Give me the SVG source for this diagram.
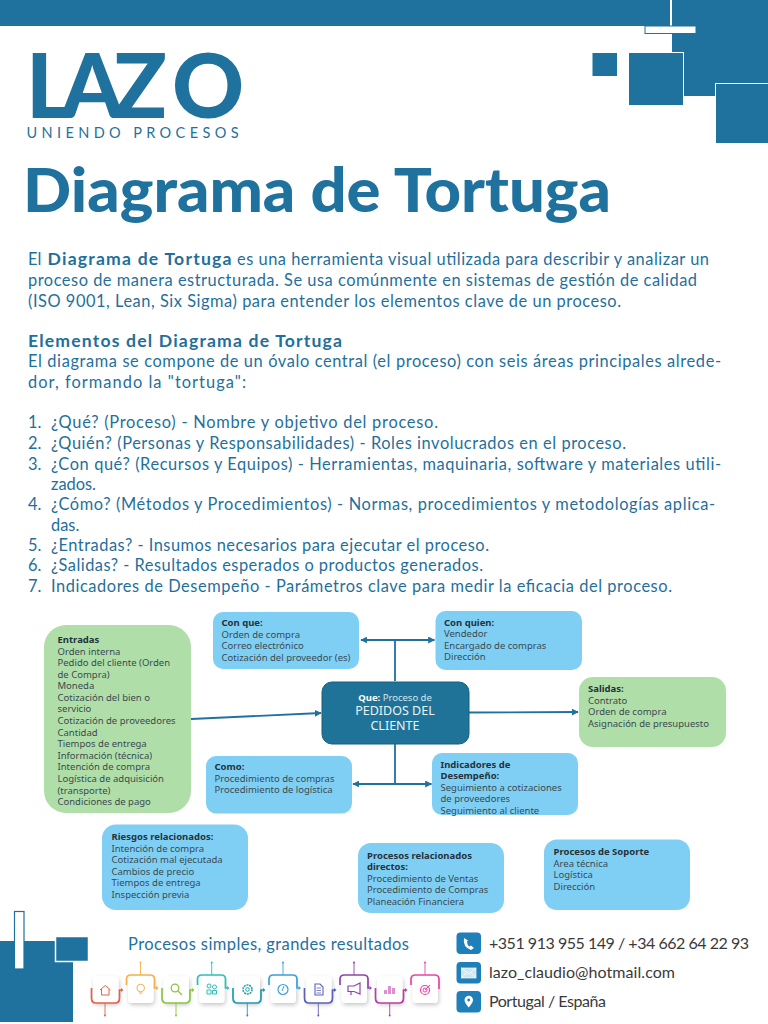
<svg xmlns="http://www.w3.org/2000/svg" width="768" height="1024" viewBox="0 0 768 1024">
<defs>
<style>
.b{fill:#1f719e}
.body{font-family:Lato,"Liberation Sans",sans-serif;font-size:16.4px;fill:#1f6f9c}
.bb{font-weight:700;font-size:17.6px}
.n{font-family:"Noto Sans","Open Sans",sans-serif;font-size:9.5px;fill:#3a4a50}
.h{font-weight:700;fill:#26323a}
.blue{fill:#7fcff5}
.green{fill:#b0dea8}
.conn{stroke:#1f719e;stroke-width:1.8;fill:none}
.ct{font-family:Lato,"Liberation Sans",sans-serif;font-size:16px;fill:#3a3a3a}
.card{fill:#fff;filter:url(#sh)}
.br{fill:none;stroke-width:1.7}
.tick{stroke-width:.9;fill:none}
.ci{fill:#1f7fb8}
</style>
<filter id="sh" x="-30%" y="-30%" width="170%" height="170%"><feDropShadow dx="1" dy="2" stdDeviation="2" flood-color="#000" flood-opacity=".22"/></filter>
<marker id="ah" viewBox="0 0 10 10" refX="9" refY="5" markerWidth="7" markerHeight="7" markerUnits="userSpaceOnUse" orient="auto-start-reverse"><path d="M0 0L10 5L0 10z" fill="#1f719e"/></marker>
</defs>
<rect width="768" height="1024" fill="#fff"/>

<g id="top-decor">
<rect class="b" x="0" y="0" width="670" height="26"/>
<path class="b" d="M672 0H768V83H715V96H684V52H672z"/>
<rect x="645" y="26" width="51" height="7.500" fill="#fff" stroke="#1f719e" stroke-width="1"/>
<rect class="b" x="629" y="53" width="54" height="52"/>
<rect class="b" x="592.500" y="53" width="24.500" height="23"/>
<rect class="b" x="716" y="84" width="52" height="59"/>
</g>

<g id="logo">
<text x="26 61 113 172" y="118" class="b" font-family="Lato,'Liberation Sans',sans-serif" font-weight="900" font-size="89">LAZO</text>
<text x="26.500" y="137.500" class="b" font-family="Lato,'Liberation Sans',sans-serif" font-size="14.500" textLength="212">UNIENDO PROCESOS</text>
</g>

<g id="title">
<text x="23" y="212" class="b" font-family="Lato,'Liberation Sans',sans-serif" font-weight="900" font-size="60" textLength="588" lengthAdjust="spacingAndGlyphs">Diagrama de Tortuga</text>
</g>

<g id="body">
<text class="body" x="28" y="265">El</text>
<text class="body bb" x="47.500" y="265" textLength="184">Diagrama de Tortuga</text>
<text class="body" x="237" y="265" textLength="472">es una herramienta visual utilizada para describir y analizar un</text>
<text class="body" x="28" y="286" textLength="669">proceso de manera estructurada. Se usa comúnmente en sistemas de gestión de calidad</text>
<text class="body" x="28" y="307" textLength="593">(ISO 9001, Lean, Six Sigma) para entender los elementos clave de un proceso.</text>
<text class="body bb" x="28" y="347" textLength="314">Elementos del Diagrama de Tortuga</text>
<text class="body" x="28" y="367" textLength="693">El diagrama se compone de un óvalo central (el proceso) con seis áreas principales alrede-</text>
<text class="body" x="28" y="388" textLength="218">dor, formando la "tortuga":</text>
<text class="body" x="28" y="428">1.</text><text class="body" x="51" y="428" textLength="387">¿Qué? (Proceso) - Nombre y objetivo del proceso.</text>
<text class="body" x="28" y="449">2.</text><text class="body" x="51" y="449" textLength="575">¿Quién? (Personas y Responsabilidades) - Roles involucrados en el proceso.</text>
<text class="body" x="28" y="470">3.</text><text class="body" x="51" y="470" textLength="670">¿Con qué? (Recursos y Equipos) - Herramientas, maquinaria, software y materiales utili-</text>
<text class="body" x="51" y="490">zados.</text>
<text class="body" x="28" y="510">4.</text><text class="body" x="51" y="510" textLength="664">¿Cómo? (Métodos y Procedimientos) - Normas, procedimientos y metodologías aplica-</text>
<text class="body" x="51" y="531">das.</text>
<text class="body" x="28" y="551">5.</text><text class="body" x="51" y="551" textLength="438">¿Entradas? - Insumos necesarios para ejecutar el proceso.</text>
<text class="body" x="28" y="571">6.</text><text class="body" x="51" y="571" textLength="432">¿Salidas? - Resultados esperados o productos generados.</text>
<text class="body" x="28" y="592">7.</text><text class="body" x="51" y="592" textLength="621">Indicadores de Desempeño - Parámetros clave para medir la eficacia del proceso.</text>
</g>

<g id="connectors">
<path class="conn" d="M395 681V640"/>
<path class="conn" d="M395 640H361" marker-end="url(#ah)"/>
<path class="conn" d="M395 640H434.500" marker-end="url(#ah)"/>
<path class="conn" d="M395 744V784"/>
<path class="conn" d="M395 784H353" marker-end="url(#ah)"/>
<path class="conn" d="M395 784H431.500" marker-end="url(#ah)"/>
<path class="conn" d="M191 719L321 713" marker-end="url(#ah)"/>
<path class="conn" d="M469 712.500L578 712" marker-end="url(#ah)"/>
</g>

<g id="entradas">
<rect class="green" x="44" y="625" width="147" height="188" rx="22"/>
<text class="n h" x="57.500" y="643">Entradas</text>
<text class="n" x="57.500" y="654.600">Orden interna</text>
<text class="n" x="57.500" y="666.100">Pedido del cliente (Orden</text>
<text class="n" x="57.500" y="677.700">de Compra)</text>
<text class="n" x="57.500" y="689.300">Moneda</text>
<text class="n" x="57.500" y="700.900">Cotización del bien o</text>
<text class="n" x="57.500" y="712.400">servicio</text>
<text class="n" x="57.500" y="724">Cotización de proveedores</text>
<text class="n" x="57.500" y="735.600">Cantidad</text>
<text class="n" x="57.500" y="747.200">Tiempos de entrega</text>
<text class="n" x="57.500" y="758.700">Información (técnica)</text>
<text class="n" x="57.500" y="770.300">Intención de compra</text>
<text class="n" x="57.500" y="781.900">Logística de adquisición</text>
<text class="n" x="57.500" y="793.500">(transporte)</text>
<text class="n" x="57.500" y="805">Condiciones de pago</text>
</g>

<g id="con-que">
<rect class="blue" x="213" y="612" width="146" height="57" rx="10"/>
<text class="n h" x="221.500" y="626">Con que:</text>
<text class="n" x="221.500" y="637.600">Orden de compra</text>
<text class="n" x="221.500" y="649.200">Correo electrónico</text>
<text class="n" x="221.500" y="660.700">Cotización del proveedor (es)</text>
</g>

<g id="con-quien">
<rect class="blue" x="435.500" y="611" width="146.500" height="59" rx="10"/>
<text class="n h" x="444" y="625.500">Con quien:</text>
<text class="n" x="444" y="637">Vendedor</text>
<text class="n" x="444" y="648.600">Encargado de compras</text>
<text class="n" x="444" y="660.100">Dirección</text>
</g>

<g id="que">
<rect x="322" y="682" width="147" height="62" rx="10" fill="#1f7399" stroke="#17607f" stroke-width="1"/>
<text x="395" y="701" text-anchor="middle" font-family="'Noto Sans',sans-serif" font-size="9.500" fill="#d5e6ee"><tspan font-weight="700" fill="#fff">Que:</tspan> Proceso de</text>
<text x="395" y="715" text-anchor="middle" font-family="'Noto Sans',sans-serif" font-size="12.500" fill="#eaf3f7">PEDIDOS DEL</text>
<text x="395" y="730" text-anchor="middle" font-family="'Noto Sans',sans-serif" font-size="12.500" fill="#eaf3f7">CLIENTE</text>
</g>

<g id="salidas">
<rect class="green" x="579" y="677" width="147" height="70" rx="14"/>
<text class="n h" x="588" y="692">Salidas:</text>
<text class="n" x="588" y="703.600">Contrato</text>
<text class="n" x="588" y="715.200">Orden de compra</text>
<text class="n" x="588" y="726.700">Asignación de presupuesto</text>
</g>

<g id="como">
<rect class="blue" x="206" y="756" width="146" height="57.500" rx="10"/>
<text class="n h" x="214.500" y="770">Como:</text>
<text class="n" x="214.500" y="781.500">Procedimiento de compras</text>
<text class="n" x="214.500" y="793">Procedimiento de logística</text>
</g>

<g id="indicadores">
<rect class="blue" x="432" y="753" width="146" height="62" rx="10"/>
<text class="n h" x="440.500" y="767.500">Indicadores de</text>
<text class="n h" x="440.500" y="779">Desempeño:</text>
<text class="n" x="440.500" y="790.700">Seguimiento a cotizaciones</text>
<text class="n" x="440.500" y="802.200">de proveedores</text>
<text class="n" x="440.500" y="813.800">Seguimiento al cliente</text>
</g>

<g id="riesgos">
<rect class="blue" x="102" y="824.500" width="146" height="85.500" rx="14"/>
<text class="n h" x="111.500" y="840">Riesgos relacionados:</text>
<text class="n" x="111.500" y="851.500">Intención de compra</text>
<text class="n" x="111.500" y="863">Cotización mal ejecutada</text>
<text class="n" x="111.500" y="874.700">Cambios de precio</text>
<text class="n" x="111.500" y="886.300">Tiempos de entrega</text>
<text class="n" x="111.500" y="897.800">Inspección previa</text>
</g>

<g id="procesos-relacionados">
<rect class="blue" x="358" y="843" width="146" height="70" rx="13"/>
<text class="n h" x="367" y="858.500">Procesos relacionados</text>
<text class="n h" x="367" y="870">directos:</text>
<text class="n" x="367" y="881.700">Procedimiento de Ventas</text>
<text class="n" x="367" y="893.300">Procedimiento de Compras</text>
<text class="n" x="367" y="904.800">Planeación Financiera</text>
</g>

<g id="procesos-soporte">
<rect class="blue" x="544" y="839.500" width="146" height="70.500" rx="13"/>
<text class="n h" x="553.500" y="855">Procesos de Soporte</text>
<text class="n" x="553.500" y="866.500">Area técnica</text>
<text class="n" x="553.500" y="878.200">Logística</text>
<text class="n" x="553.500" y="889.700">Dirección</text>
</g>

<g id="bottom-decor">
<rect class="b" x="0" y="941" width="73" height="81"/>
<rect x="55.500" y="936.500" width="33" height="25" fill="#1f719e" stroke="#fff" stroke-width="1.500"/>
<rect x="14.500" y="911.500" width="9.500" height="57.500" fill="#fff" stroke="#1f719e" stroke-width="1.200"/>
</g>

<g id="slogan">
<text x="128" y="950" class="b" font-family="Lato,'Liberation Sans',sans-serif" font-size="16.500" textLength="281">Procesos simples, grandes resultados</text>
</g>

<g id="icon-row">
<g id="step1"><rect class="card" x="93" y="976.500" width="25.500" height="26.500" rx="4"/><path class="br" stroke="#e2624a" d="M91.500 988V998Q91.500 1003 96 1003H115Q119.500 1003 119.500 998V990H121"/><path d="M121 988L123.500 990L121 992z" fill="#e2624a"/><path class="tick" stroke="#e2624a" d="M105 1003V1015"/><circle cx="105" cy="1015.500" r="1" fill="#e2624a"/><path fill="none" stroke="#e2624a" d="M100 990L105.300 985.500L110.500 990M101.500 989V995H109V989"/></g>
<g id="step2"><rect class="card" x="128" y="976.500" width="25.500" height="26.500" rx="4"/><path class="br" stroke="#f5b04a" d="M126.500 985V979Q126.500 975 131 975H150Q154.500 975 154.500 979V988H156"/><path d="M156 986L158.500 988L156 990z" fill="#f5b04a"/><path class="tick" stroke="#f5b04a" d="M140.500 975V963"/><circle cx="140.500" cy="962.500" r="1" fill="#f5b04a"/><circle cx="140.700" cy="988" r="3.800" fill="none" stroke="#f5b04a"/><path d="M139 993H142.500" stroke="#f5b04a" fill="none"/></g>
<g id="step3"><rect class="card" x="163.500" y="976.500" width="25.500" height="26.500" rx="4"/><path class="br" stroke="#8cc63f" d="M162 988V998Q162 1003 166.500 1003H185.500Q190 1003 190 998V990H192"/><path d="M192 988L194.500 990L192 992z" fill="#8cc63f"/><path class="tick" stroke="#8cc63f" d="M176 1003V1015"/><circle cx="176" cy="1015.500" r="1" fill="#8cc63f"/><circle cx="175" cy="988" r="3.800" fill="none" stroke="#8cc63f" stroke-width="1.300"/><path d="M178 991L182 995" stroke="#8cc63f" stroke-width="1.300"/></g>
<g id="step4"><rect class="card" x="199" y="976.500" width="25.500" height="26.500" rx="4"/><path class="br" stroke="#2dbfb8" d="M197.500 985V979Q197.500 975 202 975H221Q225.500 975 225.500 979V988H227"/><path d="M227 986L229.500 988L227 990z" fill="#2dbfb8"/><path class="tick" stroke="#2dbfb8" d="M211.700 975V963"/><circle cx="211.700" cy="962.500" r="1" fill="#2dbfb8"/><circle cx="209" cy="986" r="2" fill="none" stroke="#2dbfb8"/><circle cx="214.500" cy="987" r="2" fill="none" stroke="#2dbfb8"/><path d="M207 994V990H211V994ZM212.500 994V990.500H216.500V994Z" fill="none" stroke="#2dbfb8"/></g>
<g id="step5"><rect class="card" x="234.500" y="976.500" width="25.500" height="26.500" rx="4"/><path class="br" stroke="#1f9bb0" d="M233 988V998Q233 1003 237.500 1003H256.500Q261 1003 261 998V990H263"/><path d="M263 988L265.500 990L263 992z" fill="#1f9bb0"/><path class="tick" stroke="#1f9bb0" d="M247.300 1003V1015"/><circle cx="247.300" cy="1015.500" r="1" fill="#1f9bb0"/><circle cx="247.500" cy="989.500" r="4.500" fill="none" stroke="#1f9bb0" stroke-width="1.500" stroke-dasharray="2 .8"/><circle cx="247.500" cy="989.500" r="1.800" fill="none" stroke="#1f9bb0"/></g>
<g id="step6"><rect class="card" x="270.500" y="976.500" width="25.500" height="26.500" rx="4"/><path class="br" stroke="#3aa0dc" d="M269 985V979Q269 975 273.500 975H292.500Q297 975 297 979V988H298.500"/><path d="M298.500 986L301 988L298.500 990z" fill="#3aa0dc"/><path class="tick" stroke="#3aa0dc" d="M283 975V963"/><circle cx="283" cy="962.500" r="1" fill="#3aa0dc"/><circle cx="283" cy="989.500" r="5" fill="none" stroke="#3aa0dc" stroke-width="1.200"/><path d="M284 986L282 991" stroke="#3aa0dc"/></g>
<g id="step7"><rect class="card" x="306" y="976.500" width="25.500" height="26.500" rx="4"/><path class="br" stroke="#5b62b5" d="M304.500 988V998Q304.500 1003 309 1003H328Q332.500 1003 332.500 998V990H334"/><path d="M334 988L336.500 990L334 992z" fill="#5b62b5"/><path class="tick" stroke="#5b62b5" d="M318.300 1003V1015"/><circle cx="318.300" cy="1015.500" r="1" fill="#5b62b5"/><path d="M315 984H320L323 987V995H315Z" fill="none" stroke="#5b62b5" stroke-width="1.100"/><path d="M316.500 988H321M316.500 990.500H321M316.500 993H321" stroke="#5b62b5" stroke-width=".8"/></g>
<g id="step8"><rect class="card" x="341.500" y="976.500" width="25.500" height="26.500" rx="4"/><path class="br" stroke="#8e44ad" d="M340 985V979Q340 975 344.500 975H363.500Q368 975 368 979V988H369.500"/><path d="M369.500 986L372 988L369.500 990z" fill="#8e44ad"/><path class="tick" stroke="#8e44ad" d="M354 975V963"/><circle cx="354" cy="962.500" r="1" fill="#8e44ad"/><path d="M348 986H354L360 983V994L354 991.500H348ZM351 992V995" fill="none" stroke="#8e44ad" stroke-width="1.200"/></g>
<g id="step9"><rect class="card" x="377" y="976.500" width="25.500" height="26.500" rx="4"/><path class="br" stroke="#b83fa8" d="M375.500 988V998Q375.500 1003 380 1003H399Q403.500 1003 403.500 998V990H405"/><path d="M405 988L407.500 990L405 992z" fill="#b83fa8"/><path class="tick" stroke="#b83fa8" d="M389.700 1003V1015"/><circle cx="389.700" cy="1015.500" r="1" fill="#b83fa8"/><path d="M384 994V990H387V994ZM388 994V986H391V994ZM392 994V988H395V994Z" fill="#dd8fd0"/></g>
<g id="step10"><rect class="card" x="412.500" y="976.500" width="25.500" height="26.500" rx="4"/><path class="br" stroke="#e845a5" d="M411 985V979Q411 975 415.500 975H434.500Q439 975 439 979V989"/><path class="tick" stroke="#e845a5" d="M425 975V963"/><circle cx="425" cy="962.500" r="1" fill="#e845a5"/><circle cx="425" cy="990" r="4.500" fill="none" stroke="#e845a5" stroke-width="1.200"/><circle cx="425" cy="990" r="2" fill="none" stroke="#e845a5"/><path d="M425 990L430 985" stroke="#e845a5"/></g>
</g>

<g id="contact-phone">
<rect class="ci" x="456.500" y="932.500" width="24.500" height="21.500" rx="4"/>
<path d="M464 938Q462.500 947 471 950L474 948L471 945.500L469.500 946.500Q467 945 467 941.500L468 940.500Z" fill="#fff"/>
<text class="ct" x="489" y="949" textLength="260">+351 913 955 149 / +34 662 64 22 93</text>
</g>
<g id="contact-mail">
<rect class="ci" x="456.500" y="962" width="24.500" height="21.500" rx="4"/>
<rect x="461.500" y="968" width="14.500" height="10" fill="#cfe6f3" stroke="#fff" stroke-width=".7"/>
<path d="M461.500 968L468.700 974L476 968M461.500 978L466.500 972.500M476 978L471 972.500" fill="none" stroke="#fff" stroke-width=".8"/>
<text class="ct" x="489" y="978" textLength="186">lazo_claudio@hotmail.com</text>
</g>
<g id="contact-location">
<rect class="ci" x="456.500" y="991" width="24.500" height="21.500" rx="4"/>
<path d="M468.700 1007.500C466 1004 464.500 1002 464.500 1000A4.200 4.200 0 0 1 473 1000C473 1002 471.500 1004 468.700 1007.500Z" fill="#fff"/>
<circle cx="468.700" cy="1000" r="1.400" fill="#1f7fb8"/>
<text class="ct" x="489" y="1006.500" textLength="117">Portugal / España</text>
</g>
</svg>
